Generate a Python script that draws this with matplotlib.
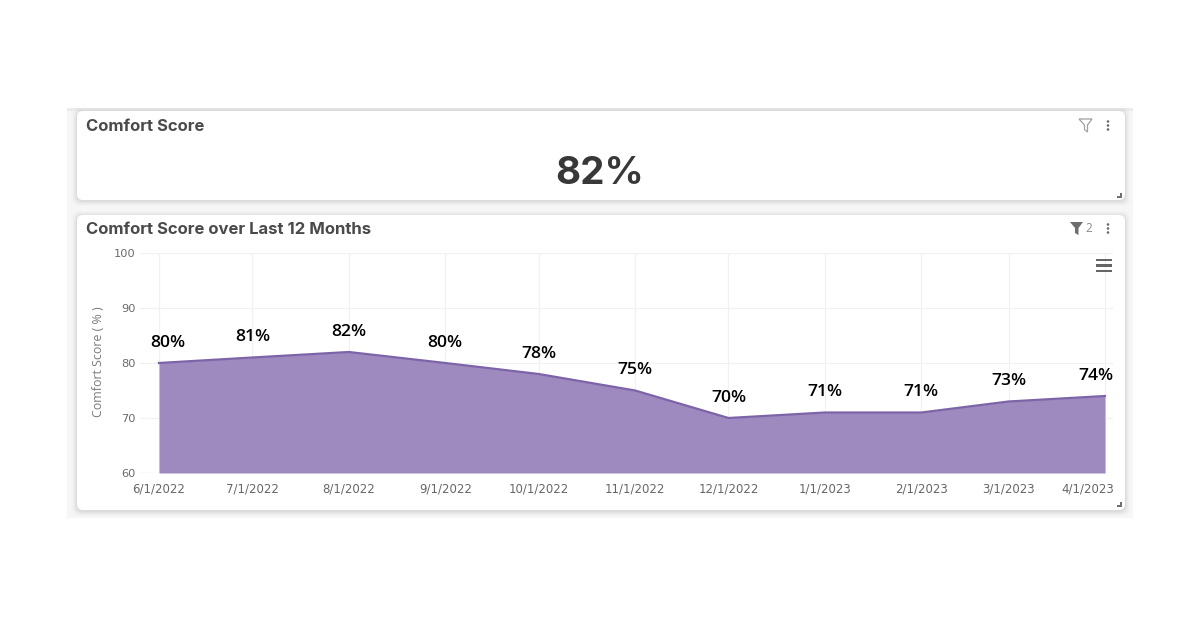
import matplotlib
matplotlib.use("Agg")
import matplotlib.pyplot as plt
import matplotlib.dates as mdates
from matplotlib.patches import FancyBboxPatch, Polygon, Rectangle, Circle
from matplotlib.transforms import ScaledTranslation
import pandas as pd

WIDTH, HEIGHT = 1200, 627

dates = ["6/1/2022", "7/1/2022", "8/1/2022", "9/1/2022", "10/1/2022", "11/1/2022",
         "12/1/2022", "1/1/2023", "2/1/2023", "3/1/2023", "4/1/2023"]
scores = [80, 81, 82, 80, 78, 75, 70, 71, 71, 73, 74]
y_ticks = [60, 70, 80, 90, 100]
headline = "82%"

FILL = "#9f8abf"
LINE = "#7d63a8"
TITLE = "#4a4a4a"

x = pd.to_datetime(dates, format="%m/%d/%Y")
x_num = mdates.date2num(x)

fig = plt.figure(figsize=(WIDTH / 100, HEIGHT / 100), dpi=100, facecolor="white")

# page layer in pixel coordinates, y pointing down
bg = fig.add_axes([0, 0, 1, 1], zorder=0)
bg.set_xlim(0, WIDTH)
bg.set_ylim(HEIGHT, 0)
bg.axis("off")

bg.add_patch(Rectangle((67, 108), 1066, 410, fc="#f6f6f6", ec="none"))
bg.add_patch(Rectangle((67, 108), 1066, 3, fc="#ebebeb", ec="none"))


def card(x0, y0, x1, y1):
    # soft shadow first
    for grow, alpha in [(5, 0.012), (4, 0.015), (3, 0.02), (2, 0.025), (1, 0.03)]:
        bg.add_patch(FancyBboxPatch((x0 - grow, y0 - grow + 1), x1 - x0 + 2 * grow, y1 - y0 + 2 * grow,
                                    boxstyle="round,pad=0,rounding_size=7", fc="black", ec="none", alpha=alpha))
    bg.add_patch(FancyBboxPatch((x0, y0), x1 - x0, y1 - y0, boxstyle="round,pad=0,rounding_size=6",
                                fc="white", ec="none"))


def dots(px, py):
    for off in [-4, 0, 4]:
        bg.add_patch(Circle((px, py + off), 1.3, fc="#6b6b6b", ec="none"))


def resize_handle(px, py):
    bg.add_patch(Polygon([(px, py - 5), (px, py), (px - 5, py), (px - 5, py - 2), (px - 2, py - 2), (px - 2, py - 5)],
                         fc="#707070", ec="none"))


card(77, 111, 1125, 200)
card(77, 215, 1125, 510)

bg.text(86, 126.5, "Comfort Score", fontsize=12, fontweight="bold", family="Inter", color=TITLE, va="center")
bg.text(86, 229.5, "Comfort Score over Last 12 Months", fontsize=12, fontweight="bold", family="Inter",
        color=TITLE, va="center")
bg.text(600, 174, headline, fontsize=27.8, fontweight="bold", family="Inter", color="#383838",
        ha="center", va="center")

# filter icons
funnel = [(1079, 119), (1092, 119), (1087.5, 125), (1087.5, 132), (1084.5, 129.5), (1084.5, 125)]
bg.add_patch(Polygon(funnel, fc="white", ec="#a0a0a0", lw=0.9))
funnel2 = [(1070, 222), (1083, 222), (1078.5, 228), (1078.5, 235), (1075, 233), (1075, 228)]
bg.add_patch(Polygon(funnel2, fc="#6e6e6e", ec="none"))
bg.text(1085, 228.5, "2", fontsize=8.5, color="#8a8a8a", family="Open Sans", va="center")
dots(1108, 125.5)
dots(1108, 228.5)
resize_handle(1122, 198)
resize_handle(1122, 507)

# chart axes: plot spans 140-1113 px, first point at 159, last at 1105
ax_left, ax_right, ax_top, ax_bottom = 140, 1113, 253, 473
ax = fig.add_axes([ax_left / WIDTH, 1 - ax_bottom / HEIGHT, (ax_right - ax_left) / WIDTH, (ax_bottom - ax_top) / HEIGHT],
                  zorder=2)
ax.patch.set_alpha(0)
px_per_day = (1105 - 159) / (x_num[-1] - x_num[0])
ax.set_xlim(x_num[0] - (159 - ax_left) / px_per_day, x_num[-1] + (ax_right - 1105) / px_per_day)
ax.set_ylim(60, 100)

ax.fill_between(x_num, scores, 60, color=FILL, lw=0, zorder=2)
ax.plot(x_num, scores, color=LINE, lw=1.6, zorder=3)

ax.set_axisbelow(True)
ax.grid(True, color="#f1f1f1", lw=0.9)
for spine in ax.spines.values():
    spine.set_visible(False)
ax.axhline(60, color="#e6e6e6", lw=0.9, zorder=1)

ax.set_yticks(y_ticks)
ax.set_xticks(x_num)
ax.set_xticklabels(dates)
ax.tick_params(axis="both", length=0)
ax.tick_params(axis="y", pad=3, labelsize=8.2, labelcolor="#6a6a6a")
ax.tick_params(axis="x", pad=7, labelsize=8.5, labelcolor="#666666")
for lab in ax.get_xticklabels() + ax.get_yticklabels():
    lab.set_family("DejaVu Sans")

# the outer date labels are pushed inside the chart area
last = ax.get_xticklabels()[-1]
last.set_transform(last.get_transform() + ScaledTranslation(-17 / 100, 0, fig.dpi_scale_trans))

fig.text(98 / WIDTH, 1 - 362 / HEIGHT, "Comfort Score ( % )", rotation=90, fontsize=8.9, color="#7a7a7a",
         family="Open Sans", ha="center", va="center")

for i, (d, s) in enumerate(zip(x_num, scores)):
    shift = 0
    if i == 0:
        shift = 9
    elif i == len(scores) - 1:
        shift = -9
    ax.annotate(f"{s}%", (d, s), xytext=(shift * 0.72, 14.5), textcoords="offset points", ha="center", va="center",
                fontsize=12.6, family="Open Sans", fontweight="semibold", color="black", zorder=5,
                annotation_clip=False)

# hamburger menu sits above the grid
top = fig.add_axes([0, 0, 1, 1], zorder=3)
top.set_xlim(0, WIDTH)
top.set_ylim(HEIGHT, 0)
top.axis("off")
for py in [260, 265.5, 271]:
    top.add_patch(Rectangle((1096, py - 1.4), 16, 2.8, fc="#666666", ec="none"))

fig.savefig("out.png", dpi=100, facecolor="white")
